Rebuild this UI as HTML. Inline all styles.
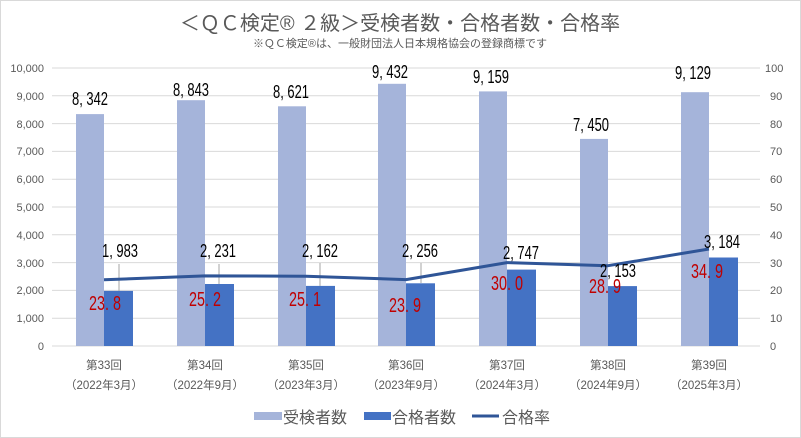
<!DOCTYPE html>
<html><head><meta charset="utf-8"><style>
body{margin:0;background:#fff}
svg{display:block}
text{font-family:"Liberation Sans","Noto Sans CJK JP",sans-serif}
.n{font-size:18px;fill:#000;text-anchor:middle}
.r{fill:#c00000;font-size:20px}
.ax{font-size:11px;fill:#595959}
.cat{font-size:11.5px;fill:#595959;text-anchor:middle}
</style></head><body>
<svg width="801" height="438" viewBox="0 0 801 438">
<rect x="0.5" y="0.5" width="800" height="437" fill="#fff" stroke="#d9d9d9"/>
<text x="400" y="30" font-size="20" fill="#595959" text-anchor="middle">＜ＱＣ検定® ２級＞受検者数・合格者数・合格率</text>
<text x="400" y="47" font-size="11" fill="#595959" text-anchor="middle">※ＱＣ検定®は、一般財団法人日本規格協会の登録商標です</text>
<g stroke="#d9d9d9" stroke-width="1">
<line x1="52" x2="760" y1="68" y2="68"/><line x1="52" x2="760" y1="95.8" y2="95.8"/><line x1="52" x2="760" y1="123.6" y2="123.6"/><line x1="52" x2="760" y1="151.4" y2="151.4"/><line x1="52" x2="760" y1="179.2" y2="179.2"/><line x1="52" x2="760" y1="207" y2="207"/><line x1="52" x2="760" y1="234.8" y2="234.8"/><line x1="52" x2="760" y1="262.6" y2="262.6"/><line x1="52" x2="760" y1="290.4" y2="290.4"/><line x1="52" x2="760" y1="318.2" y2="318.2"/><line x1="52" x2="760" y1="346" y2="346"/>
</g>
<g class="ax" text-anchor="end">
<text x="44" y="72">10,000</text><text x="44" y="100">9,000</text><text x="44" y="128">8,000</text><text x="44" y="155">7,000</text><text x="44" y="183">6,000</text><text x="44" y="211">5,000</text><text x="44" y="239">4,000</text><text x="44" y="267">3,000</text><text x="44" y="294">2,000</text><text x="44" y="322">1,000</text><text x="44" y="350">0</text>
</g>
<g class="ax">
<text x="765" y="72">100</text><text x="770" y="100">90</text><text x="770" y="128">80</text><text x="770" y="155">70</text><text x="770" y="183">60</text><text x="770" y="211">50</text><text x="770" y="239">40</text><text x="770" y="267">30</text><text x="770" y="294">20</text><text x="770" y="322">10</text><text x="770" y="350">0</text>
</g>
<g fill="#a5b4da">
<rect x="76" y="114.1" width="28" height="231.9"/>
<rect x="177" y="100.2" width="28" height="245.8"/>
<rect x="278" y="106.3" width="28" height="239.7"/>
<rect x="378" y="83.8" width="28" height="262.2"/>
<rect x="479" y="91.4" width="28" height="254.6"/>
<rect x="580" y="138.9" width="28" height="207.1"/>
<rect x="681" y="92.2" width="28" height="253.8"/>
</g>
<g fill="#4472c4">
<rect x="104" y="290.9" width="29" height="55.1"/>
<rect x="205" y="284" width="29" height="62"/>
<rect x="306" y="285.9" width="29" height="60.1"/>
<rect x="406" y="283.3" width="29" height="62.7"/>
<rect x="507" y="269.6" width="29" height="76.4"/>
<rect x="608" y="286.1" width="29" height="59.9"/>
<rect x="709" y="257.5" width="29" height="88.5"/>
</g>
<g stroke="#a6a6a6" stroke-width="1">
<line x1="119" y1="264" x2="119" y2="291"/><line x1="219" y1="264" x2="219" y2="284"/><line x1="320" y1="263" x2="320" y2="286"/><line x1="421" y1="263" x2="421" y2="283"/>
</g>
<polyline fill="none" stroke="#2f5597" stroke-width="3" stroke-linejoin="round" points="104,279.8 205,275.9 306,276.2 406,279.6 507,262.6 608,265.7 709,249"/>
<g class="n">
<text x="90" y="105" textLength="36" lengthAdjust="spacingAndGlyphs">8, 342</text><text x="191" y="96" textLength="36" lengthAdjust="spacingAndGlyphs">8, 843</text><text x="291" y="98" textLength="36" lengthAdjust="spacingAndGlyphs">8, 621</text><text x="390" y="78" textLength="36" lengthAdjust="spacingAndGlyphs">9, 432</text><text x="491" y="83" textLength="36" lengthAdjust="spacingAndGlyphs">9, 159</text><text x="591" y="131" textLength="36" lengthAdjust="spacingAndGlyphs">7, 450</text><text x="693" y="79" textLength="36" lengthAdjust="spacingAndGlyphs">9, 129</text>
<text x="120" y="257" textLength="36" lengthAdjust="spacingAndGlyphs">1, 983</text><text x="218" y="257" textLength="36" lengthAdjust="spacingAndGlyphs">2, 231</text><text x="320" y="257" textLength="36" lengthAdjust="spacingAndGlyphs">2, 162</text><text x="420" y="257" textLength="36" lengthAdjust="spacingAndGlyphs">2, 256</text><text x="521" y="259" textLength="36" lengthAdjust="spacingAndGlyphs">2, 747</text><text x="618" y="277" textLength="36" lengthAdjust="spacingAndGlyphs">2, 153</text><text x="722" y="248" textLength="36" lengthAdjust="spacingAndGlyphs">3, 184</text>
</g>
<g class="n r">
<text x="105" y="310" textLength="32" lengthAdjust="spacingAndGlyphs">23. 8</text><text x="205" y="306" textLength="32" lengthAdjust="spacingAndGlyphs">25. 2</text><text x="305" y="306" textLength="32" lengthAdjust="spacingAndGlyphs">25. 1</text><text x="405" y="312" textLength="32" lengthAdjust="spacingAndGlyphs">23. 9</text><text x="507" y="290" textLength="32" lengthAdjust="spacingAndGlyphs">30. 0</text><text x="605" y="293" textLength="32" lengthAdjust="spacingAndGlyphs">28. 9</text><text x="707" y="278" textLength="32" lengthAdjust="spacingAndGlyphs">34. 9</text>
</g>
<g class="cat">
<text x="104" y="369">第33回</text><text x="104" y="389">（2022年3月）</text>
<text x="205" y="369">第34回</text><text x="205" y="389">（2022年9月）</text>
<text x="306" y="369">第35回</text><text x="306" y="389">（2023年3月）</text>
<text x="406" y="369">第36回</text><text x="406" y="389">（2023年9月）</text>
<text x="507" y="369">第37回</text><text x="507" y="389">（2024年3月）</text>
<text x="608" y="369">第38回</text><text x="608" y="389">（2024年9月）</text>
<text x="709" y="369">第39回</text><text x="709" y="389">（2025年3月）</text>
</g>
<rect x="254" y="412" width="28" height="8" fill="#a5b4da"/>
<text x="283" y="423" font-size="16" fill="#595959">受検者数</text>
<rect x="364" y="412" width="27" height="8" fill="#4472c4"/>
<text x="392" y="423" font-size="16" fill="#595959">合格者数</text>
<line x1="472" y1="416" x2="499" y2="416" stroke="#2f5597" stroke-width="3"/>
<text x="502" y="423" font-size="16" fill="#595959">合格率</text>
</svg>
</body></html>
